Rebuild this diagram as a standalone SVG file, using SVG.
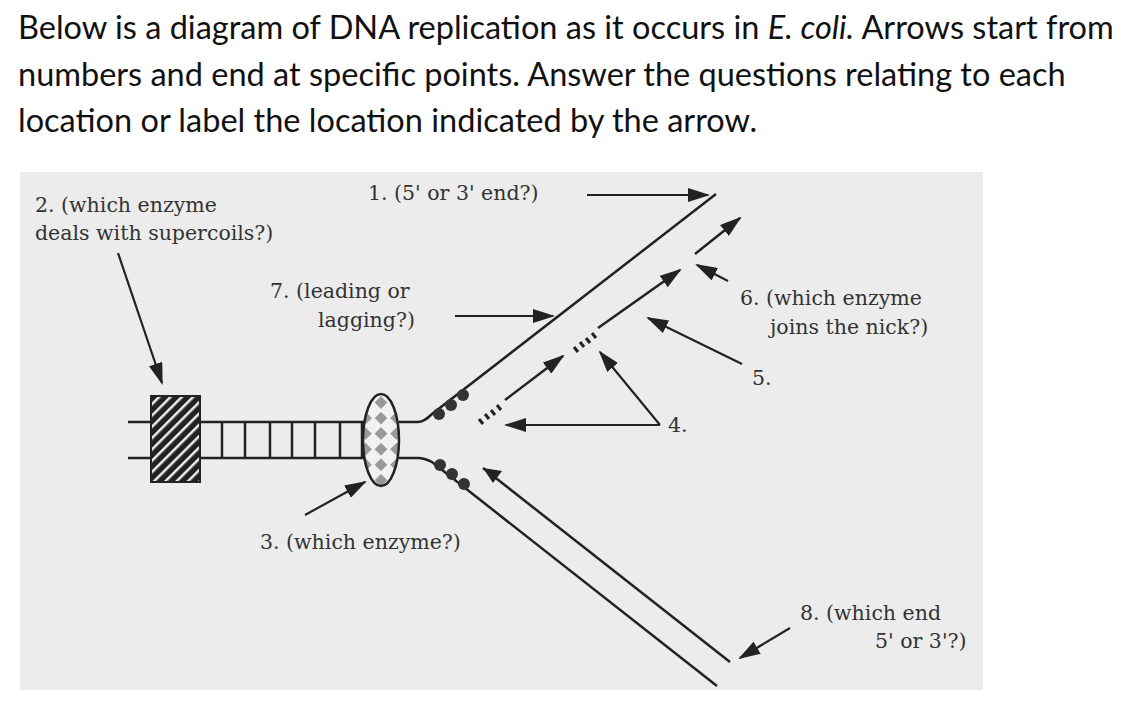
<svg xmlns="http://www.w3.org/2000/svg" width="1148" height="704" viewBox="0 0 1148 704">
<defs>
<marker id="ahb" markerWidth="22" markerHeight="14" refX="20" refY="7" orient="auto" markerUnits="userSpaceOnUse" viewBox="0 0 22 14"><path d="M0,0 L22,7 L0,14 Z" fill="#222"/></marker>
<pattern id="hatch" width="8" height="8" patternUnits="userSpaceOnUse" patternTransform="rotate(45)"><rect width="8" height="8" fill="#222"/><rect x="0" width="2.5" height="8" fill="#eee"/></pattern>
<pattern id="check" x="381" y="440" width="22" height="22" patternUnits="userSpaceOnUse" patternTransform="rotate(45 381 440)"><rect width="22" height="22" fill="#f2f2f2"/><rect x="2" y="2" width="9" height="9" fill="#999"/><rect x="13" y="13" width="9" height="9" fill="#999"/></pattern>
</defs>
<style>
.hd{font-family:Lato,"Open Sans",sans-serif;font-size:32.5px;fill:#111}
.lb{font-family:"DejaVu Serif",serif;font-size:20.5px;fill:#333}
.ln{stroke:#222;stroke-width:2.5;fill:none}
.ar{stroke:#222;stroke-width:2.2;fill:none;marker-end:url(#ahb)}
.bd{fill:#333}
.dash{stroke:#222;stroke-width:3}
</style>
<rect width="1148" height="704" fill="#fff"/>
<text class="hd" x="18" y="39">Below is a diagram of DNA replication as it occurs in <tspan font-style="italic">E. coli.</tspan> Arrows start from</text>
<text class="hd" x="18" y="86">numbers and end at specific points. Answer the questions relating to each</text>
<text class="hd" x="18" y="132">location or label the location indicated by the arrow.</text>
<rect x="20" y="172" width="963" height="518" fill="#ececec"/>
<g id="duplex">
<line class="ln" x1="128" y1="422" x2="375" y2="422"/>
<line class="ln" x1="128" y1="458" x2="375" y2="458"/>
<g class="ln" stroke-width="2"><line x1="222" y1="422" x2="222" y2="458"/><line x1="245" y1="422" x2="245" y2="458"/><line x1="270" y1="422" x2="270" y2="458"/><line x1="292" y1="422" x2="292" y2="458"/><line x1="315" y1="422" x2="315" y2="458"/><line x1="340" y1="422" x2="340" y2="458"/><line x1="362" y1="422" x2="362" y2="458"/></g>
</g>
<g id="topoisomerase"><rect x="151" y="396" width="49" height="86" fill="url(#hatch)" stroke="#222" stroke-width="2"/></g>
<g id="helicase"><ellipse cx="381" cy="440" rx="18" ry="46" fill="url(#check)" stroke="#222" stroke-width="2.5"/></g>
<g id="strands">
<path class="ln" d="M399,422 L418,422 Q424,422 432,414 L716,194"/>
<path class="ln" d="M399,458 L418,458 Q424,458 432,462 L717,686"/>
<line class="ln" x1="483" y1="468" x2="730" y2="662"/>
<polygon points="483,468 502,471 493,483" fill="#222"/>
<circle class="bd" cx="439" cy="414" r="6"/><circle class="bd" cx="451" cy="405" r="6"/><circle class="bd" cx="463" cy="395" r="6"/>
<circle class="bd" cx="440" cy="465" r="6"/><circle class="bd" cx="452" cy="474" r="6"/><circle class="bd" cx="464" cy="484" r="6"/>
<line class="ln" x1="505" y1="400" x2="563" y2="356" marker-end="url(#ahb)"/>
<line class="ln" x1="598" y1="328" x2="680" y2="270" marker-end="url(#ahb)"/>
<line class="ln" x1="695" y1="254" x2="740" y2="218" marker-end="url(#ahb)"/>
<g class="dash"><line x1="479" y1="419" x2="483" y2="424"/><line x1="485" y1="414" x2="489" y2="419"/><line x1="491" y1="410" x2="495" y2="415"/><line x1="497" y1="405" x2="501" y2="410"/>
<line x1="574" y1="347" x2="578" y2="352"/><line x1="580" y1="342" x2="584" y2="347"/><line x1="586" y1="338" x2="590" y2="343"/><line x1="592" y1="333" x2="596" y2="338"/></g>
</g>
<g id="connectors">
<line class="ar" x1="587" y1="195" x2="708" y2="195"/>
<line class="ar" x1="118" y1="253" x2="162" y2="383"/>
<line class="ar" x1="455" y1="316" x2="553" y2="316"/>
<line class="ar" x1="728" y1="281" x2="697" y2="265"/>
<line class="ar" x1="742" y1="364" x2="648" y2="318"/>
<line class="ar" x1="660" y1="425" x2="600" y2="352"/>
<line class="ar" x1="660" y1="425" x2="506" y2="425"/>
<line class="ar" x1="305" y1="515" x2="365" y2="482"/>
<line class="ar" x1="790" y1="628" x2="740" y2="658"/>
</g>
<g id="labels">
<text class="lb" x="35" y="212">2. (which enzyme</text>
<text class="lb" x="35" y="240">deals with supercoils?)</text>
<text class="lb" x="368" y="200">1. (5' or 3' end?)</text>
<text class="lb" x="270" y="298">7. (leading or</text>
<text class="lb" x="318" y="327">lagging?)</text>
<text class="lb" x="740" y="305">6. (which enzyme</text>
<text class="lb" x="770" y="334">joins the nick?)</text>
<text class="lb" x="752" y="385">5.</text>
<text class="lb" x="668" y="432">4.</text>
<text class="lb" x="260" y="549">3. (which enzyme?)</text>
<text class="lb" x="800" y="620">8.  (which end</text>
<text class="lb" x="875" y="648">5' or 3'?)</text>
</g>
</svg>
